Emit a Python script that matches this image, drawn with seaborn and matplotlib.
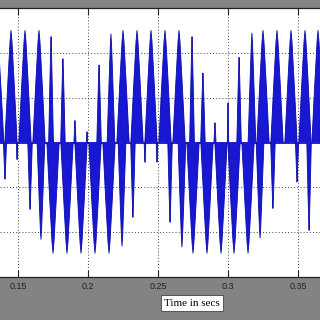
import numpy as np
import pandas as pd
import matplotlib
matplotlib.use("Agg")
import matplotlib.pyplot as plt
import seaborn as sns

# ---- data (time in s, amplitude, pulse base width in s) ----
pos_times = [0.1364, 0.1450, 0.1550, 0.1650, 0.1736, 0.1821, 0.1907, 0.1993,
             0.2079, 0.2164, 0.2250, 0.2350, 0.2450, 0.2550, 0.2650, 0.2743,
             0.2821, 0.2907, 0.3000, 0.3079, 0.3171, 0.3250, 0.3350, 0.3450,
             0.3550, 0.3643]
pos_values = [1.9, 2.5, 2.5, 2.5, 2.36, 1.87, 0.49, 0.24,
              1.73, 2.42, 2.5, 2.5, 2.5, 2.5, 2.5, 2.36,
              1.55, 0.44, 0.88, 1.9, 2.44, 2.5, 2.5, 2.5,
              2.5, 2.5]
pos_widths = [0.0070, 0.0088, 0.0088, 0.0088, 0.0034, 0.0032, 0.0015, 0.0010,
              0.0032, 0.0055, 0.0088, 0.0088, 0.0088, 0.0088, 0.0088, 0.0034,
              0.0032, 0.0015, 0.0010, 0.0032, 0.0055, 0.0088, 0.0088, 0.0088,
              0.0088, 0.0088]

neg_times = [0.1407, 0.1493, 0.1586, 0.1664, 0.1750, 0.1850, 0.1950, 0.2050,
             0.2150, 0.2243, 0.2321, 0.2407, 0.2493, 0.2586, 0.2671, 0.2750,
             0.2850, 0.2950, 0.3043, 0.3143, 0.3229, 0.3321, 0.3493, 0.3579]
neg_values = [-0.82, -0.38, -1.49, -2.16, -2.47, -2.47, -2.47, -2.47,
              -2.47, -2.31, -1.67, -0.44, -0.44, -1.78, -2.33, -2.47,
              -2.47, -2.47, -2.47, -2.47, -2.13, -1.47, -0.88, -1.96]
neg_widths = [0.0022, 0.0010, 0.0032, 0.0055, 0.0088, 0.0088, 0.0088, 0.0088,
              0.0088, 0.0055, 0.0032, 0.0012, 0.0012, 0.0032, 0.0055, 0.0088,
              0.0088, 0.0088, 0.0088, 0.0088, 0.0055, 0.0032, 0.0022, 0.0032]

x_ticks = [0.15, 0.2, 0.25, 0.3, 0.35]
x_ticklabels = ["0.15", "0.2", "0.25", "0.3", "0.35"]
y_grid = [-2, -1, 0, 1, 2]
x_label = "Time in secs"

# ---- build spike outlines ----
offs = [-0.5, -0.25, -0.08, 0.0, 0.08, 0.25, 0.5]
fracs = [0.0, 0.55, 0.9, 1.0, 0.9, 0.55, 0.0]
rows = []
sid = 0
for ts, vs, ws in ((pos_times, pos_values, pos_widths), (neg_times, neg_values, neg_widths)):
    for t, v, w in zip(ts, vs, ws):
        for k, (o, f) in enumerate(zip(offs, fracs)):
            rows.append({"t": t + o * w, "v": v * f, "spike": sid, "order": k})
        sid += 1
df = pd.DataFrame(rows)

sns.set_theme(style="white")
fig = plt.figure(figsize=(3.2, 3.2), dpi=100, facecolor="#838383")
ax = fig.add_axes([0.0, 43 / 320, 1.0, 269 / 320])
ax.set_facecolor("white")

fill_c = "#1818d2"
edge_c = "#0a0aa8"
for s, g in df.groupby("spike"):
    ax.fill(g["t"], g["v"], color=fill_c, lw=0, zorder=3)
sns.lineplot(data=df, x="t", y="v", units="spike", estimator=None, sort=False,
             color=edge_c, lw=0.6, ax=ax, zorder=4, legend=False)
ax.axhline(0, color=fill_c, lw=1.3, zorder=3)

ax.set_xlim(0.15 - 18 / 1400, 0.15 + 302 / 1400)
ax.set_ylim(-3, 3)
ax.set_xticks(x_ticks)
ax.set_xticklabels(x_ticklabels)
ax.set_yticks(y_grid)
ax.set_yticklabels([])
ax.grid(True, color="#555555", ls=(0, (1, 2)), lw=0.75, zorder=1)
ax.set_xlabel("")
ax.set_ylabel("")
ax.tick_params(axis="x", direction="in", length=5, width=0.8, top=True, bottom=True,
               pad=3.5, labelsize=6.5, labelcolor="#222222", color="#222222")
ax.tick_params(axis="y", length=0)
for lab in ax.get_xticklabels():
    lab.set_family(["Liberation Sans Narrow", "Liberation Sans", "DejaVu Sans"])
for sp in ["left", "right"]:
    ax.spines[sp].set_visible(False)
for sp in ["top", "bottom"]:
    ax.spines[sp].set_color("#222222")
    ax.spines[sp].set_linewidth(0.9)

fig.text(192 / 320, 1 - 303 / 320, x_label, ha="center", va="center",
         fontsize=8, family=["Liberation Serif", "DejaVu Serif"], color="black",
         bbox=dict(facecolor="white", edgecolor="#444444", lw=0.6, pad=2.2))

fig.savefig("out.png", dpi=100, facecolor=fig.get_facecolor())
